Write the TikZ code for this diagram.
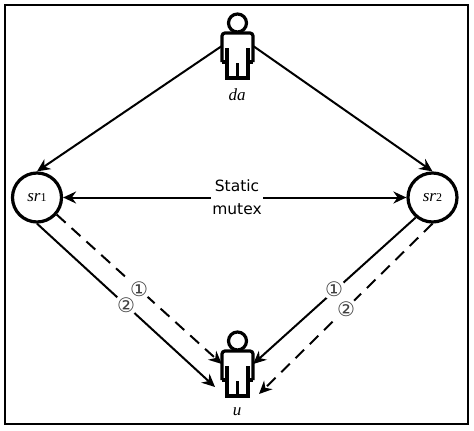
\documentclass[tikz,border=0pt]{standalone}
\usepackage{fontspec}
\setmainfont{DejaVu Sans}
\newfontfamily\labelfont{Liberation Serif}
\newfontfamily\numfont{DejaVu Sans}
\usetikzlibrary{positioning,arrows.meta}

\begin{document}
\begin{tikzpicture}[
  x=1pt, y=-1pt,
  server/.style={draw, circle, line width=3.2pt, minimum size=49pt, inner sep=0pt,
                 font=\labelfont\fontsize{17}{18}\selectfont},
  user/.style={minimum width=31pt, minimum height=64pt, inner sep=0pt},
  username/.style={font=\labelfont\itshape\fontsize{17}{18}\selectfont},
  stepnum/.style={fill=white, text=black!75, circle, inner sep=0pt, font=\numfont\fontsize{20}{20}\selectfont},
  mutexlabel/.style={fill=white, align=center, inner sep=1pt, font=\fontsize{15.5}{23}\selectfont},
  arrow/.style={-{Stealth[length=13pt,width=12pt]}, line width=2pt},
  dasharrow/.style={arrow, dash pattern=on 12pt off 8pt},
  person/.pic={
    \draw[line width=3.2pt] (0,-23) circle (9);
    \draw[line width=3.2pt, rounded corners=3pt] (-15.5,16) -- (-15.5,-13) -- (15.5,-13) -- (15.5,16);
    \draw[line width=3.2pt] (-15.5,16) -- (-10.5,16) (-10.5,2) -- (-10.5,32) -- (10.5,32) -- (10.5,2)
      (10.5,16) -- (15.5,16);
    \draw[line width=2.6pt] (0,17) -- (0,32);
  }
]
  \useasboundingbox (0,0) rectangle (474,431);
  \draw[line width=2.6pt] (5,5) rectangle (468,424);

  \node[user] (da) at (237.5,46) {};
  \node[user] (u) at (237.5,364) {};
  \pic at (da) {person};
  \pic at (u) {person};
  \node[username] (daname) at (237,95) {da};
  \node[username] (uname) at (237,412) {u};

  \node[server] (sr1) at (37,197.5) {\textit{sr}\fontsize{12}{12}\selectfont 1};
  \node[server] (sr2) at (432.5,197.5) {\textit{sr}\fontsize{12}{12}\selectfont 2};

  \coordinate (u1) at (215,387);
  \coordinate (u2) at (259,394);

  \draw[arrow] (da.west) -- (sr1.north);
  \draw[arrow] (da.east) -- (sr2.north);
  \draw[arrow] (sr1.south) -- (u1);
  \draw[arrow] (sr2.-130) -- (u.east);
  \draw[dasharrow] (sr1.-41) -- (u.west);
  \draw[dasharrow] (sr2.south) -- (u2);
  \draw[{Stealth[length=13pt,width=12pt]}-{Stealth[length=13pt,width=12pt]}, line width=2pt] (sr1) -- (sr2);

  \node[mutexlabel] (mutex) at (237,197.5) {Static\\mutex};

  \node[stepnum] (s1a) at (139,289) {①};
  \node[stepnum] (s2a) at (126,305) {②};
  \node[stepnum] (s1b) at (334,289) {①};
  \node[stepnum] (s2b) at (346,309) {②};
\end{tikzpicture}
\end{document}
